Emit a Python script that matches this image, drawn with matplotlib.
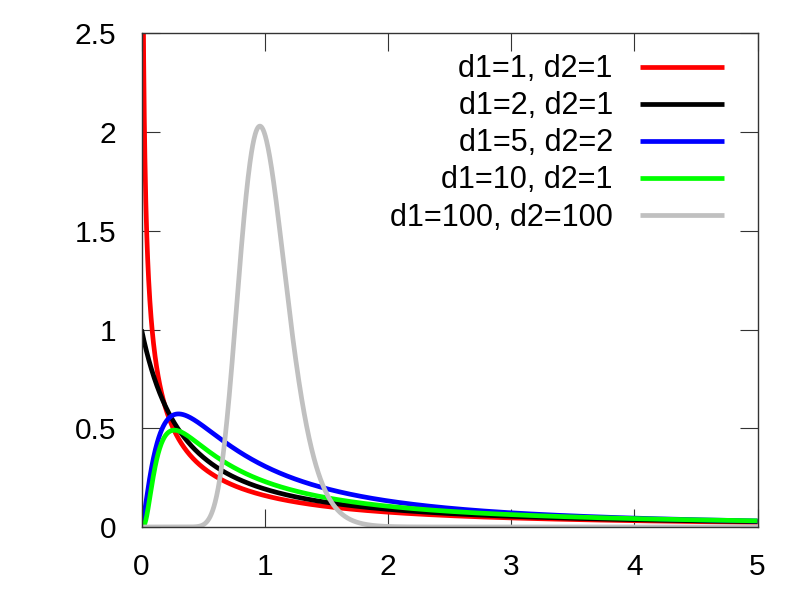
import numpy as np
import matplotlib
matplotlib.use('Agg')
import matplotlib.pyplot as plt
from math import lgamma

# F-distribution parameter pairs shown in the chart
d1_values = [1, 2, 5, 10, 100]
d2_values = [1, 1, 2, 1, 100]
colors = ['#ff0000', '#000000', '#0000ff', '#00ff00', '#c0c0c0']
labels = ['d1=1, d2=1', 'd1=2, d2=1', 'd1=5, d2=2', 'd1=10, d2=1', 'd1=100, d2=100']

x_ticks = [0, 1, 2, 3, 4, 5]
y_ticks = [0, 0.5, 1, 1.5, 2, 2.5]
y_tick_labels = ['0', '0.5', '1', '1.5', '2', '2.5']


def f_pdf(x, d1, d2):
    logb = lgamma(d1 / 2) + lgamma(d2 / 2) - lgamma((d1 + d2) / 2)
    with np.errstate(divide='ignore', invalid='ignore'):
        logp = (d1 / 2) * np.log(d1 / d2) + (d1 / 2 - 1) * np.log(x) \
            - ((d1 + d2) / 2) * np.log1p(d1 * x / d2) - logb
        y = np.exp(logp)
    return y


plt.rcParams['font.family'] = ['Liberation Sans', 'DejaVu Sans']

fig = plt.figure(figsize=(8, 6), dpi=100)
ax = fig.add_axes([0.1769, 0.1217, 0.77, 0.8228])

x = np.linspace(0, 5, 2001)
for d1, d2, c, lab in zip(d1_values, d2_values, colors, labels):
    y = f_pdf(x, d1, d2)
    if d1 == 2:
        y[0] = 1.0
    elif d1 > 2:
        y[0] = 0.0
    ax.plot(x, y, color=c, lw=3.4, label=lab, solid_capstyle='butt')

ax.set_xlim(0, 5)
ax.set_ylim(0, 2.5)
ax.set_xticks(x_ticks)
ax.set_xticklabels([str(t) for t in x_ticks])
ax.set_yticks(y_ticks)
ax.set_yticklabels(y_tick_labels)
ax.tick_params(direction='in', length=13, width=0.8, color='#333333',
               top=True, right=True, labelsize=21.5)
ax.tick_params(axis='x', pad=18.5)
ax.tick_params(axis='y', pad=18)
for s in ax.spines.values():
    s.set_linewidth(1)
    s.set_color('#333333')

leg = ax.legend(loc='upper right', bbox_to_anchor=(0.966, 0.982),
                markerfirst=False, frameon=False,
                fontsize=22, handlelength=2.77, handletextpad=0.88,
                labelspacing=0.23, borderaxespad=0)

fig.savefig('out.png', dpi=100)
